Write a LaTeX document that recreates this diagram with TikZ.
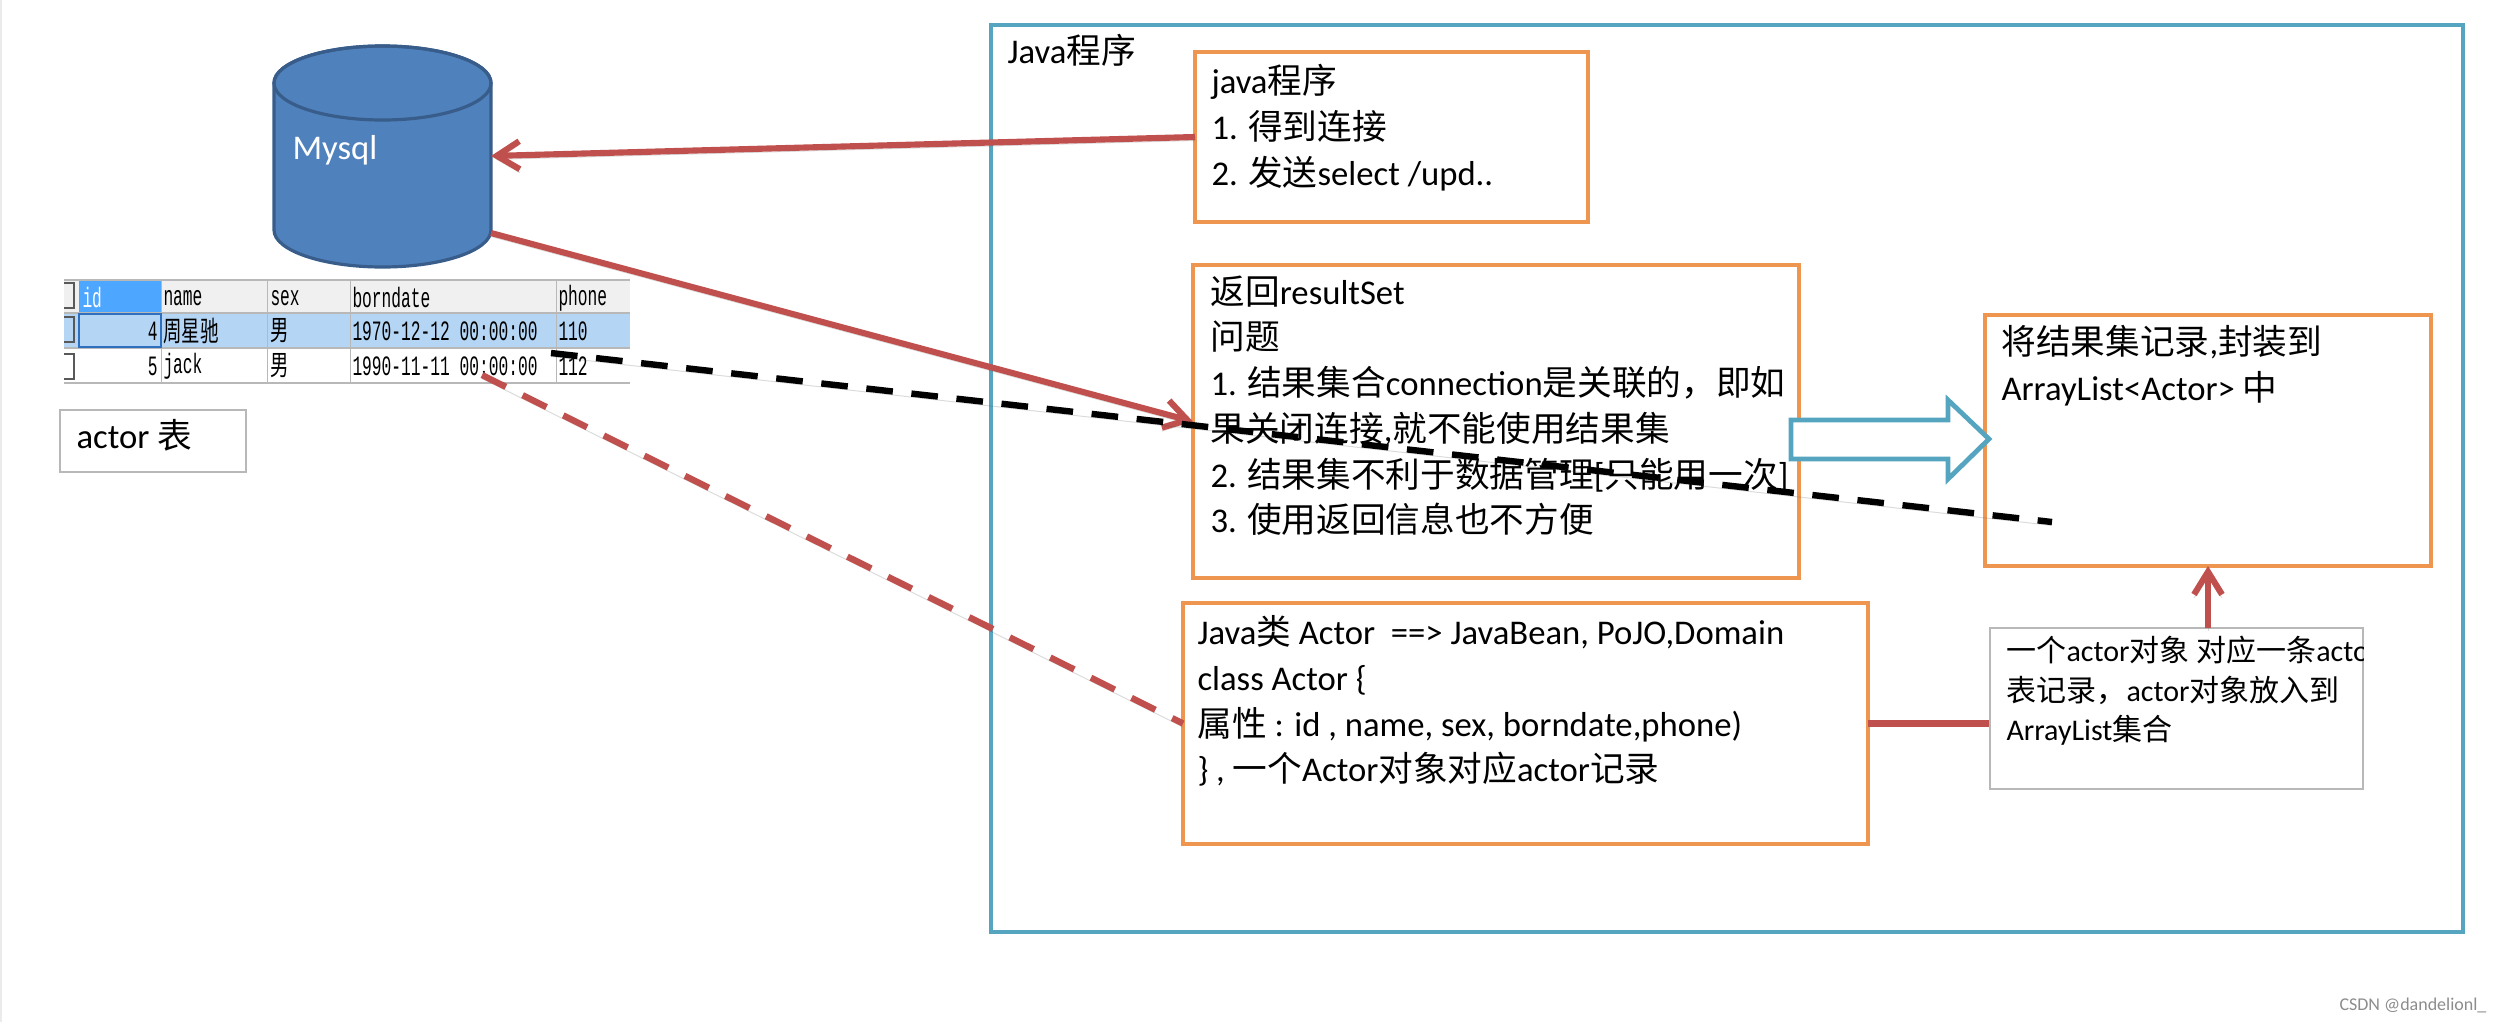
\documentclass[tikz,border=0pt]{standalone}
\usepackage{fontspec}
\setmainfont{Carlito}
\setmonofont{Liberation Mono}
\newfontfamily\cjk{Noto Sans CJK SC}
\usetikzlibrary{arrows.meta}

\definecolor{dbblue}{RGB}{79,129,189}
\definecolor{dbedge}{RGB}{56,93,138}
\definecolor{boxorange}{RGB}{238,150,80}
\definecolor{boxteal}{RGB}{85,165,192}
\definecolor{arrowred}{RGB}{192,80,77}
\definecolor{notegray}{RGB}{184,184,184}
\definecolor{headgray}{RGB}{240,240,240}
\definecolor{rowblue}{RGB}{181,213,245}
\definecolor{cellblue}{RGB}{77,166,255}
\definecolor{celledge}{RGB}{47,111,192}

\newcommand{\zh}[1]{{\cjk #1}}
\newcommand{\tbl}[1]{\scalebox{0.58}[1]{\ttfamily\fontsize{21}{21}\selectfont #1}}
\newcommand{\tblzh}[1]{\scalebox{0.66}[1]{\cjk\fontsize{21}{21}\selectfont #1}}

\tikzset{
  every picture/.style={line width=0.75pt},
  orangebox/.style={draw=boxorange,line width=3.2pt,inner sep=0pt,outer sep=0pt},
  tealbox/.style={draw=boxteal,line width=3.6pt,inner sep=0pt,outer sep=0pt},
  graybox/.style={draw=notegray,line width=1.8pt,fill=white,inner sep=0pt,outer sep=0pt},
  bodytext/.style={anchor=north west,align=left,inner sep=0pt,font=\fontsize{26}{34.3}\selectfont},
  notetext/.style={anchor=north west,align=left,inner sep=0pt,font=\fontsize{22.5}{29.6}\selectfont},
  tblcell/.style={anchor=west,inner sep=0pt},
  softshadow/.style={preaction={draw=black!70,opacity=0.2,transform canvas={yshift=-2.6pt}}},
  redarrow/.style={softshadow,draw=arrowred,line width=4.6pt,-{Straight Barb[length=17pt,width=21pt,line width=4.6pt]}},
  redline/.style={softshadow,draw=arrowred,line width=5.2pt},
  dashline/.style={softshadow,line width=4.8pt,dash pattern=on 20pt off 14pt},
  canedge/.style={draw=dbedge,line width=2.4pt},
}

\begin{document}
\begin{tikzpicture}[x=0.75pt,y=0.75pt,yscale=-1,xscale=1]
\useasboundingbox (0,0) rectangle (2503,1022);

%Shape: Page edge
\fill [black!8] (0,0) rectangle (2,1022);

%Shape: Table background
\fill [headgray] (64,280) rectangle (630,313);
\fill [rowblue] (64,313) rectangle (630,348);
\fill [cellblue] (79,280) rectangle (161,313);
\draw [notegray,line width=2pt] (64,280) -- (630,280);
\draw [notegray,line width=2pt] (64,313) -- (630,313);
\draw [notegray,line width=2pt] (64,383) -- (630,383);
\draw [notegray,line width=1pt] (64,348) -- (630,348);
\foreach \x in {161,267,350,556} {
  \draw [notegray,line width=0.75pt] (\x,280) -- (\x,383);
}
\draw [celledge,line width=1.6pt] (79,314) rectangle (161,347);
%Shape: Row markers
\foreach \y in {283,317,354} {
  \draw [black!65,line width=1.8pt] (64,\y) -- (74,\y) -- (74,\y+25) -- (64,\y+25);
}

% Text Node
\foreach \x/\lab in {163/name,270/sex,352/borndate,558/phone} {
  \draw (\x,298) node (hd\lab) [tblcell] {\tbl{\lab}};
}
\draw (82,298) node (hdid) [tblcell,text=white] {\tbl{id}};
\draw (158,331) node (rowafirst) [anchor=east,inner sep=0pt] {\tbl{4}};
\draw (163,331) node (rowaname) [tblcell] {\tblzh{周星驰}};
\draw (270,331) node (rowasex) [tblcell] {\tblzh{男}};
\draw (352,331) node (rowadate) [tblcell] {\tbl{1970-12-12 00:00:00}};
\draw (558,331) node (rowaphone) [tblcell] {\tbl{110}};
\draw (158,366) node (rowbfirst) [anchor=east,inner sep=0pt] {\tbl{5}};
\draw (163,366) node (rowbname) [tblcell] {\tbl{jack}};
\draw (270,366) node (rowbsex) [tblcell] {\tblzh{男}};
\draw (352,366) node (rowbdate) [tblcell] {\tbl{1990-11-11 00:00:00}};
\draw (558,366) node (rowbphone) [tblcell] {\tbl{112}};

%Shape: Can
\draw [canedge,fill=dbblue] (274,83) -- (274,230) arc [start angle=180,end angle=0,x radius=108.5,y radius=37] -- (491,83) arc [start angle=0,end angle=-180,x radius=108.5,y radius=37] -- cycle ;
\draw [canedge] (382.5,83) ellipse [x radius=108.5,y radius=37];
\coordinate (dbin) at (491,156);
\coordinate (dbout) at (491,233);
\draw (292,150) node (dblabel) [anchor=west,inner sep=0pt,text=white,font=\fontsize{26}{34.3}\selectfont] {Mysql};

%Shape: Rectangle
\draw (153,441) node (actorbox) [graybox,minimum width=139.5pt,minimum height=46.5pt] {};
\draw (1727,478.5) node (javabox) [tealbox,minimum width=1104pt,minimum height=680.25pt] {};
\draw (1391.5,137) node (connbox) [orangebox,minimum width=294.75pt,minimum height=127.5pt] {};
\draw (1496,421.5) node (resultbox) [orangebox,minimum width=454.5pt,minimum height=234.75pt] {};
\draw (1525.5,723.5) node (beanbox) [orangebox,minimum width=513.75pt,minimum height=180.75pt] {};
\draw (2208,440.5) node (listbox) [orangebox,minimum width=334.5pt,minimum height=188.25pt] {};

%Shape: Right Arrow
\draw [boxteal,line width=3.6pt,fill=white,miter limit=10] (1791,420) -- (1948,420) -- (1948,400) -- (1989,439) -- (1948,479) -- (1948,459) -- (1791,459) -- cycle ;

%Straight Lines
\draw [redline] (beanbox.east) -- (beanbox.east -| 1990,0);
\draw (2176.5,708.5) node (notebox) [graybox,minimum width=279.75pt,minimum height=120.75pt] {};
\draw [redarrow] (connbox.west) -- (dbin);
\draw [redarrow] (dbout) -- (resultbox.west);
\draw [redarrow] (notebox.north -| listbox.south) -- (listbox.south);

% Text Node
\draw (76,419) node (actorlabel) [bodytext] {actor \zh{表}};
\draw (1007,34) node (javalabel) [bodytext] {Java\zh{程序}};
\draw (1211,64) node (conntext) [bodytext] {java\zh{程序}\\1. \zh{得到连接}\\2. \zh{发送}select /upd..};
\draw (1210,275) node (resulttext) [bodytext] {\zh{返回}resultSet\\\zh{问题}\\1. \zh{结果集合}connection\zh{是关联的，即如}\\\zh{果关闭连接},\zh{就不能使用结果集}\\2. \zh{结果集不利于数据管理}[\zh{只能用一次}]\\3. \zh{使用返回信息也不方便}};
\draw (1197,615) node (beantext) [bodytext] {Java\zh{类} Actor\ \ ==> JavaBean, PoJO,Domain\\class Actor \{\\\zh{属性} : id , name, sex, borndate,phone)\\\} , \zh{一个}Actor\zh{对象对应}actor\zh{记录}};
\draw (2001,325) node (listtext) [bodytext] {\zh{将结果集记录},\zh{封装到}\\ArrayList<Actor> \zh{中}};
\begin{scope}
\clip (1990,628) rectangle (2363,789);
\draw (2006,636) node (notetext) [notetext] {\zh{一个}actor\zh{对象 对应一条}actor\\\zh{表记录，}actor\zh{对象放入到}\\ArrayList\zh{集合}};
\end{scope}
\draw (2487,1005) node (mark) [anchor=east,inner sep=0pt,text=black!45,font=\fontsize{13.5}{16}\selectfont] {CSDN @dandelionl\_};

%Straight Lines
\coordinate (blackstart) at (551,353);
\coordinate (blackend) at (2052,522);
\coordinate (redstart) at (482,375);
\draw [dashline,arrowred] (redstart) -- (beanbox.west);
\draw [dashline,black] (blackstart) -- (blackend);

\end{tikzpicture}
\end{document}
